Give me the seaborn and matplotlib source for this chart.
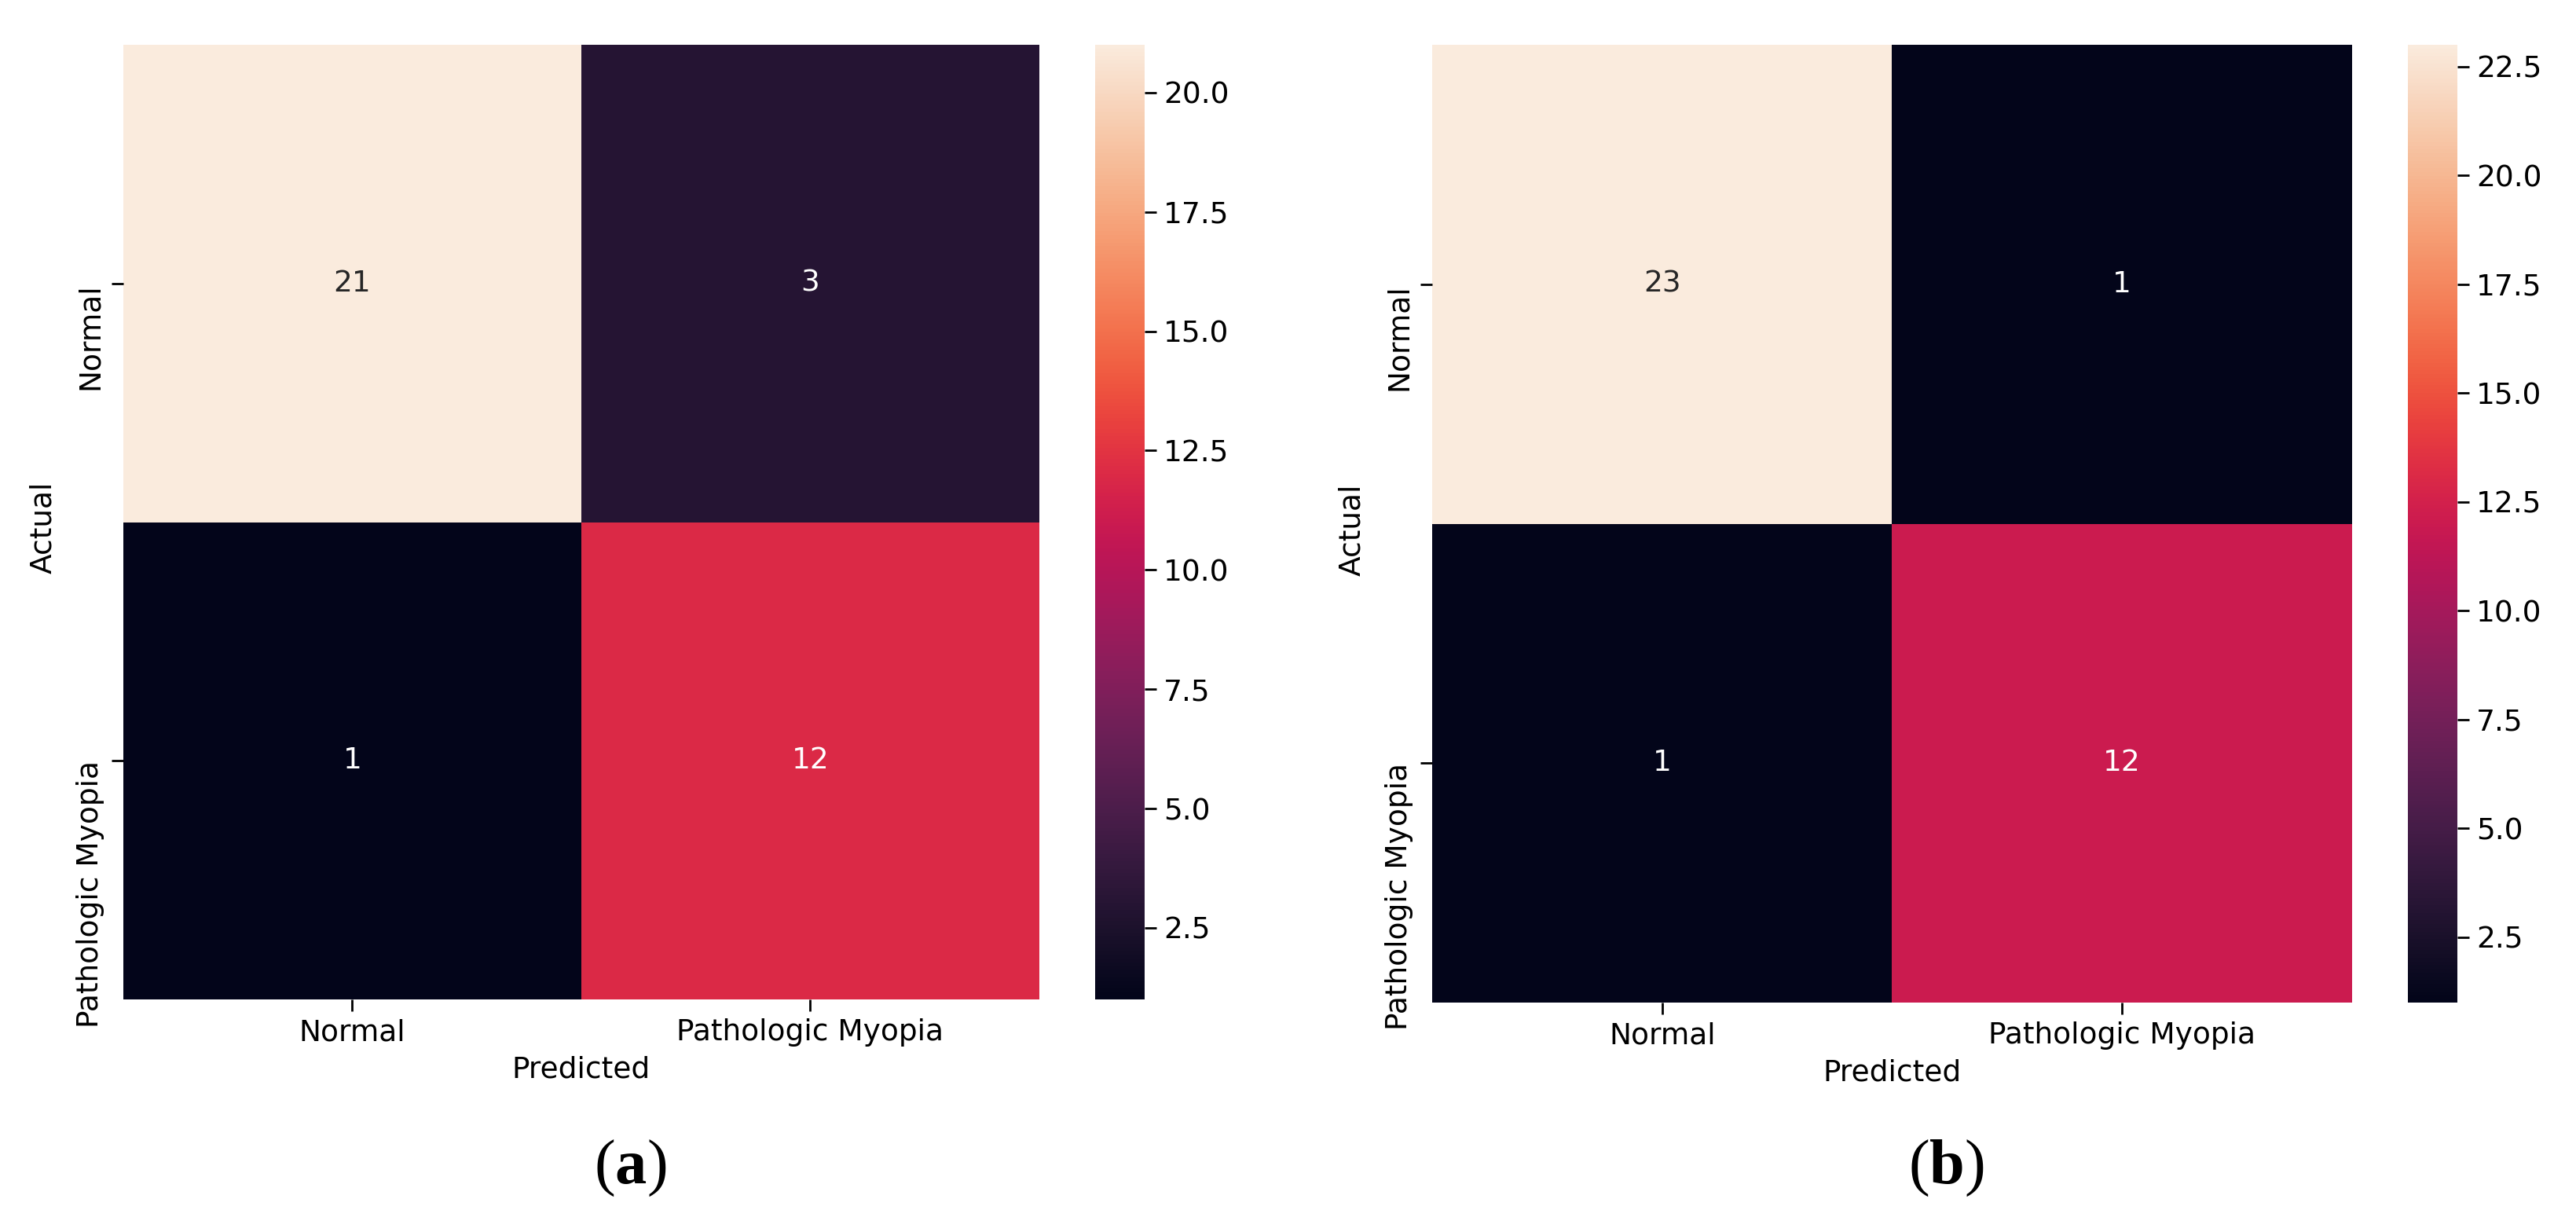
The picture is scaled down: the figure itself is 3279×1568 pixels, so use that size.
import numpy as np
import pandas as pd
import matplotlib
matplotlib.use("Agg")
import matplotlib.pyplot as plt
import seaborn as sns

# ---- data ----
class_labels = ["Normal", "Pathologic Myopia"]
cm_a = [[21, 3],
        [1, 12]]
cm_b = [[23, 1],
        [1, 12]]
panel_labels = ["a", "b"]
x_label = "Predicted"
y_label = "Actual"

FS = 27
plt.rcParams.update({
    "font.family": ["DejaVu Sans"],
    "font.size": FS,
    "xtick.major.size": 10.5,
    "ytick.major.size": 10.5,
    "xtick.major.width": 2.0,
    "ytick.major.width": 2.0,
    "xtick.major.pad": 7,
    "ytick.major.pad": 7,
    "axes.labelpad": 8,
    "mathtext.fontset": "custom",
    "mathtext.bf": "Liberation Serif:bold",
    "mathtext.rm": "Liberation Serif",
})

fig = plt.figure(figsize=(32.8, 15.68), dpi=100)

W, H = 3280.0, 1568.0
def rect(x0, x1, y0, y1):
    return [x0 / W, 1 - y1 / H, (x1 - x0) / W, (y1 - y0) / H]

layouts = [
    (rect(157, 1323, 57, 1272), rect(1394, 1457, 57, 1272), 802),
    (rect(1823, 2994, 57, 1276), rect(3065, 3128, 57, 1276), 2477),
]

for cm, lab, (hm_rect, cb_rect, lab_x) in zip([cm_a, cm_b], panel_labels, layouts):
    df = pd.DataFrame(cm, index=class_labels, columns=class_labels)
    ax = fig.add_axes(hm_rect)
    cax = fig.add_axes(cb_rect)
    sns.heatmap(df, annot=True, fmt="d", cmap="rocket", ax=ax, cbar_ax=cax,
                annot_kws={"fontsize": FS})
    ax.set_xlabel(x_label, fontsize=FS)
    ax.set_ylabel(y_label, fontsize=FS)
    ax.yaxis.set_label_coords(-0.0715, 0.494)
    ax.tick_params(labelsize=FS)
    for t in ax.get_yticklabels():
        t.set_rotation(90)
        t.set_va("top")
    cax.tick_params(labelsize=FS, length=10.5, width=2.0, pad=7)
    fig.text(lab_x / W, 1 - 1487 / H, r"($\mathbf{" + lab + r"}$)",
             ha="center", va="center", fontsize=58, family="Liberation Serif")

fig.savefig("out.png", dpi=100, facecolor="white")
